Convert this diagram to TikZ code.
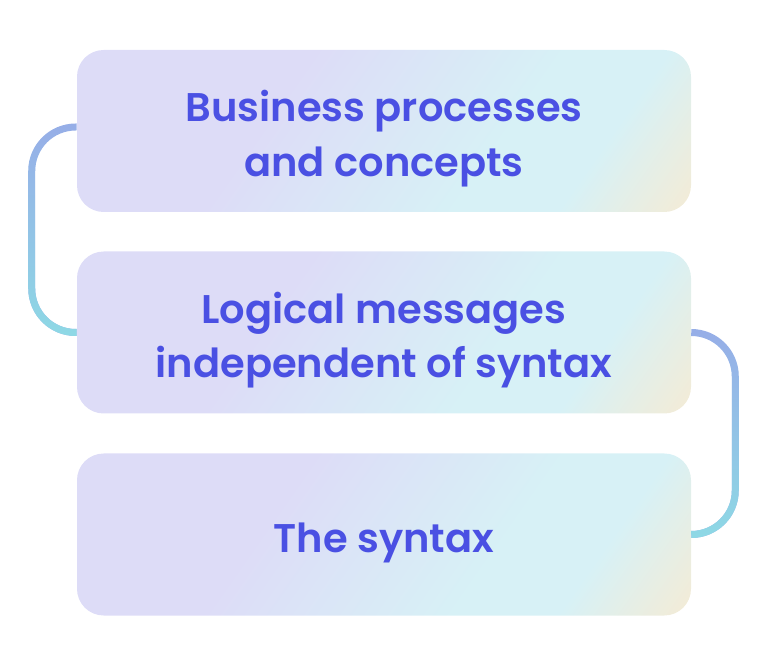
\documentclass[tikz,border=0pt]{standalone}
\usepackage{fontspec}
\setmainfont{Poppins}[BoldFont={* SemiBold}]
\usetikzlibrary{fadings}
\definecolor{royalink}{RGB}{74, 80, 227}
\definecolor{lavender}{RGB}{221, 220, 247}
\definecolor{icecyan}{RGB}{215, 241, 246}
\definecolor{cream}{RGB}{252, 234, 205}
\definecolor{linkblue}{RGB}{151, 174, 232}
\definecolor{linkcyan}{RGB}{142, 217, 229}
\pgfdeclarehorizontalshading{boxwash}{100bp}{color(0bp)=(lavender); color(38bp)=(lavender); color(62bp)=(icecyan); color(72bp)=(icecyan); color(88bp)=(cream); color(100bp)=(cream)}
\tikzfading[name=fadedown, top color=transparent!100, bottom color=transparent!0]
\newcommand{\lift}{\rule{0pt}{35pt}}

\begin{document}
\begin{tikzpicture}[x=0.75pt, y=-0.75pt,
    layer/.style={minimum width=460.5pt, minimum height=121.5pt, rounded corners=20pt,
        shading=boxwash, shading angle=-35, text=royalink, align=center,
        font=\bfseries\fontsize{30}{41}\selectfont, inner sep=0pt},
    link/.style={line width=5.25pt, rounded corners=33pt}]
    \useasboundingbox (0,0) rectangle (768,666);
    \node[layer] (business) at (384,131)   {\lift Business processes\\and concepts};
    \node[layer] (logical)  at (384,332.5) {\lift Logical messages\\independent of syntax};
    \node[layer] (syntax)   at (384,534.5) {\lift The syntax};
    % left link
    \draw[link, linkblue] ([yshift=3pt]business.west) -- ++(-45,0) |- (logical.west);
    \draw[link, linkcyan, path fading=fadedown] ([yshift=3pt]business.west) -- ++(-45,0) |- (logical.west);
    % right link
    \draw[link, linkblue] (logical.east) -- ++(44,0) |- (syntax.east);
    \draw[link, linkcyan, path fading=fadedown] (logical.east) -- ++(44,0) |- (syntax.east);
\end{tikzpicture}
\end{document}
